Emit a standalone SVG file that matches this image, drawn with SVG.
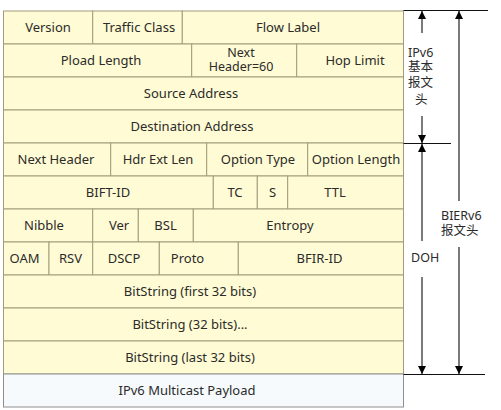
<svg xmlns="http://www.w3.org/2000/svg" width="501" height="410" viewBox="0 0 501 410">
<style>
.c{fill:#FFFBD4;stroke:#A39C7C;stroke-width:1}
.p{fill:#F6FAFD;stroke:#8E8E8E;stroke-width:1}
.t{font-family:"Noto Sans","Open Sans",sans-serif;font-size:13px;fill:#2B2B2B;text-anchor:middle}
.n{font-size:12.5px}
.s{font-family:"Noto Sans","Noto Sans CJK SC",sans-serif;font-size:12.5px;fill:#2B2B2B}
.a{stroke:#333;stroke-width:1.3;fill:none}
.h{stroke:#111;stroke-width:1.2;fill:none}
</style>
<defs>
<marker id="ah" viewBox="0 0 10 10" refX="10" refY="5" markerWidth="8" markerHeight="8" markerUnits="userSpaceOnUse" orient="auto">
<path d="M0,0 L10,5 L0,10 z" fill="#000"/>
</marker>
</defs>
<rect width="501" height="410" fill="#fff"/>
<g id="row1">
<rect class="c" x="3.5" y="11" width="89.2" height="33"/>
<rect class="c" x="92.7" y="11" width="89.6" height="33"/>
<rect class="c" x="182.3" y="11" width="221.2" height="33"/>
<text class="t" x="48" y="32">Version</text>
<text class="t" x="139" y="32">Traffic Class</text>
<text class="t" x="288" y="32">Flow Label</text>
</g>
<g id="row2">
<rect class="c" x="3.5" y="44" width="188.2" height="33"/>
<rect class="c" x="191.7" y="44" width="105" height="33"/>
<rect class="c" x="296.7" y="44" width="106.8" height="33"/>
<text class="t" x="101" y="65">Pload Length</text>
<text class="t n" x="241" y="57">Next</text>
<text class="t n" x="241" y="71">Header=60</text>
<text class="t" x="355" y="65">Hop Limit</text>
</g>
<g id="row3">
<rect class="c" x="3.5" y="77" width="400" height="33"/>
<text class="t" x="191" y="98">Source Address</text>
</g>
<g id="row4">
<rect class="c" x="3.5" y="110" width="400" height="33"/>
<text class="t" x="192" y="131">Destination Address</text>
</g>
<g id="row5">
<rect class="c" x="3.5" y="143" width="107.2" height="33"/>
<rect class="c" x="110.7" y="143" width="96" height="33"/>
<rect class="c" x="206.7" y="143" width="101" height="33"/>
<rect class="c" x="307.7" y="143" width="95.8" height="33"/>
<text class="t" x="56" y="164">Next Header</text>
<text class="t" x="158" y="164">Hdr Ext Len</text>
<text class="t" x="258" y="164">Option Type</text>
<text class="t" x="356" y="164">Option Length</text>
</g>
<g id="row6">
<rect class="c" x="3.5" y="176" width="209.8" height="33"/>
<rect class="c" x="213.3" y="176" width="44" height="33"/>
<rect class="c" x="257.3" y="176" width="30.4" height="33"/>
<rect class="c" x="287.7" y="176" width="115.8" height="33"/>
<text class="t" x="108" y="197">BIFT-ID</text>
<text class="t" x="235" y="197">TC</text>
<text class="t" x="272.5" y="197">S</text>
<text class="t" x="335" y="197">TTL</text>
</g>
<g id="row7">
<rect class="c" x="3.5" y="209" width="89.2" height="33"/>
<rect class="c" x="92.7" y="209" width="45.6" height="33"/>
<rect class="c" x="138.3" y="209" width="55" height="33"/>
<rect class="c" x="193.3" y="209" width="210.2" height="33"/>
<text class="t" x="44" y="230">Nibble</text>
<text class="t" x="119" y="230">Ver</text>
<text class="t" x="165.5" y="230">BSL</text>
<text class="t" x="290" y="230">Entropy</text>
</g>
<g id="row8">
<rect class="c" x="3.5" y="242" width="45.5" height="33"/>
<rect class="c" x="49" y="242" width="43.7" height="33"/>
<rect class="c" x="92.7" y="242" width="66.6" height="33"/>
<rect class="c" x="159.3" y="242" width="79" height="33"/>
<rect class="c" x="238.3" y="242" width="165.2" height="33"/>
<text class="t" x="24.5" y="263">OAM</text>
<text class="t" x="70.5" y="263">RSV</text>
<text class="t" x="124" y="263">DSCP</text>
<text class="t" x="187.5" y="263">Proto</text>
<text class="t" x="319.5" y="263">BFIR-ID</text>
</g>
<g id="row9">
<rect class="c" x="3.5" y="275" width="400" height="33"/>
<text class="t" x="190" y="296">BitString (first 32 bits)</text>
</g>
<g id="row10">
<rect class="c" x="3.5" y="308" width="400" height="33"/>
<text class="t" x="190" y="329">BitString (32 bits)...</text>
</g>
<g id="row11">
<rect class="c" x="3.5" y="341" width="400" height="33"/>
<text class="t" x="190" y="362">BitString (last 32 bits)</text>
</g>
<g id="payload">
<rect class="p" x="3.5" y="374" width="400" height="33"/>
<text class="t" x="187" y="395">IPv6 Multicast Payload</text>
</g>
<g id="labels">
<text class="s" x="408" y="57">IPv6</text>
<text class="s" x="408" y="71">基本</text>
<text class="s" x="408" y="87">报文</text>
<text class="s" x="415" y="104">头</text>
<text class="s" x="441" y="220">BIERv6</text>
<text class="s" x="441" y="235">报文头</text>
<text class="s" x="411" y="262">DOH</text>
</g>
<g id="connectors">
<line class="h" x1="403.5" y1="10.5" x2="488" y2="10.5"/>
<line class="h" x1="403.5" y1="143.5" x2="451" y2="143.5"/>
<line class="h" x1="403.5" y1="374.5" x2="485" y2="374.5"/>
<line class="a" x1="422" y1="33" x2="422" y2="11" marker-end="url(#ah)"/>
<line class="a" x1="422" y1="116" x2="422" y2="143" marker-end="url(#ah)"/>
<line class="a" x1="422" y1="241" x2="422" y2="144" marker-end="url(#ah)"/>
<line class="a" x1="422" y1="277" x2="422" y2="374" marker-end="url(#ah)"/>
<line class="a" x1="459" y1="201" x2="459" y2="11" marker-end="url(#ah)"/>
<line class="a" x1="459" y1="247" x2="459" y2="374" marker-end="url(#ah)"/>
</g>
</svg>
